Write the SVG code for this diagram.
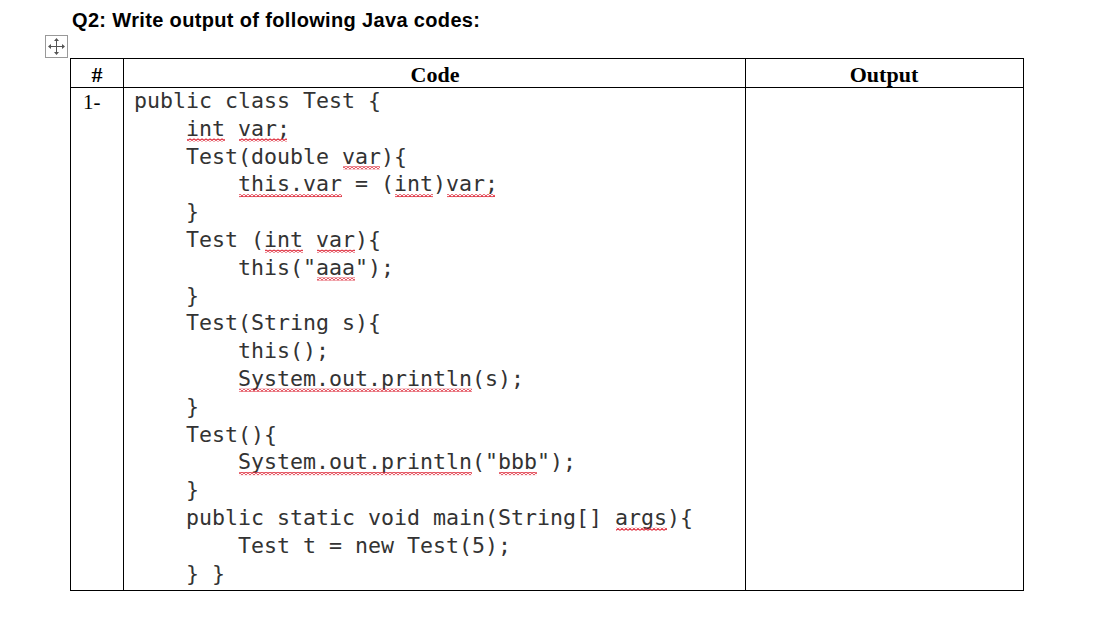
<svg xmlns="http://www.w3.org/2000/svg" width="1114" height="643" viewBox="0 0 1114 643">
<style>
.c{font-family:"DejaVu Sans Mono",monospace;font-size:21.6px;fill:#333;white-space:pre}
.h{font-family:"Liberation Serif",serif;font-weight:bold;font-size:22px;fill:#000}
.l{stroke:#000;stroke-width:1;fill:none}
</style>
<defs>
<pattern id="wv" width="4" height="3" patternUnits="userSpaceOnUse"><path d="M0 2.5 L2 0.5 L4 2.5" stroke="#d23" stroke-width="1.1" fill="none"/></pattern>
</defs>
<rect width="1114" height="643" fill="#fff"/>
<text x="72" y="27" font-family="Liberation Sans,sans-serif" font-weight="bold" font-size="20" textLength="408" fill="#000">Q2: Write output of following Java codes:</text>
<g id="moveicon">
<rect x="45.5" y="35.5" width="22" height="22" fill="#fff" stroke="#999"/>
<path d="M56.5 39 V54 M49 46.5 H64" stroke="#555" stroke-width="1"/>
<path d="M56.5 38 l-2.5 3 h5 z M56.5 55 l-2.5 -3 h5 z M48 46.5 l3 -2.5 v5 z M65 46.5 l-3 -2.5 v5 z" fill="#555"/>
</g>
<g id="table">
<rect x="70.5" y="58.5" width="953" height="532" class="l"/>
<line x1="70" y1="87.5" x2="1023" y2="87.5" class="l"/>
<line x1="123.5" y1="58" x2="123.5" y2="590" class="l"/>
<line x1="745.5" y1="58" x2="745.5" y2="590" class="l"/>
<text x="97" y="82" class="h" text-anchor="middle" font-weight="normal">#</text>
<text x="435" y="82" class="h" text-anchor="middle">Code</text>
<text x="884" y="82" class="h" text-anchor="middle">Output</text>
<text x="83" y="109" font-family="Liberation Serif,serif" font-size="21" fill="#000">1-</text>
</g>
<g id="code">
<text class="c" x="134" y="108">public class Test {</text>
<text class="c" x="134" y="135.8">    int var;</text>
<text class="c" x="134" y="163.6">    Test(double var){</text>
<text class="c" x="134" y="191.4">        this.var = (int)var;</text>
<text class="c" x="134" y="219.2">    }</text>
<text class="c" x="134" y="247">    Test (int var){</text>
<text class="c" x="134" y="274.8">        this("aaa");</text>
<text class="c" x="134" y="302.6">    }</text>
<text class="c" x="134" y="330.4">    Test(String s){</text>
<text class="c" x="134" y="358.2">        this();</text>
<text class="c" x="134" y="386">        System.out.println(s);</text>
<text class="c" x="134" y="413.8">    }</text>
<text class="c" x="134" y="441.6">    Test(){</text>
<text class="c" x="134" y="469.4">        System.out.println("bbb");</text>
<text class="c" x="134" y="497.2">    }</text>
<text class="c" x="134" y="525">    public static void main(String[] args){</text>
<text class="c" x="134" y="552.8">        Test t = new Test(5);</text>
<text class="c" x="134" y="580.6">    } }</text>
</g>
<g id="squiggles" fill="url(#wv)">
<rect x="187" y="138.5" width="38" height="3"/>
<rect x="239" y="138.5" width="48" height="3"/>
<rect x="343" y="166.3" width="37" height="3"/>
<rect x="239" y="194.1" width="103" height="3"/>
<rect x="395" y="194.1" width="38" height="3"/>
<rect x="447" y="194.1" width="48" height="3"/>
<rect x="265" y="249.7" width="38" height="3"/>
<rect x="317" y="249.7" width="38" height="3"/>
<rect x="317" y="277.5" width="38" height="3"/>
<rect x="239" y="388.7" width="233" height="3"/>
<rect x="239" y="472.1" width="233" height="3"/>
<rect x="499" y="472.1" width="38" height="3"/>
<rect x="616" y="527.7" width="51" height="3"/>
</g>
</svg>
